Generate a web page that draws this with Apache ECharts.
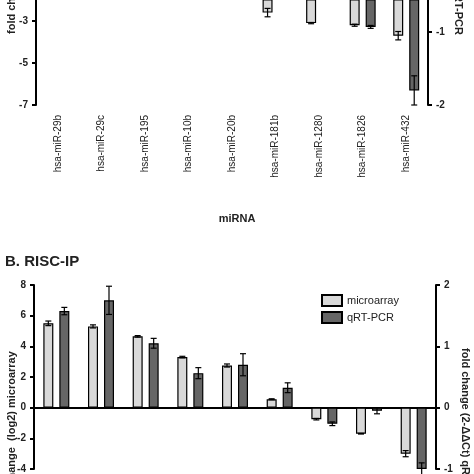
<!DOCTYPE html>
<html><head><meta charset="utf-8">
<script src="https://cdn.jsdelivr.net/npm/echarts@6/dist/echarts.min.js"></script>
<style>html,body{margin:0;padding:0;background:#fff}#c{width:474px;height:474px}</style>
</head><body><div id="c"></div>
<script>
const categories = ['hsa-miR-29b','hsa-miR-29c','hsa-miR-195','hsa-miR-10b','hsa-miR-20b','hsa-miR-181b','hsa-miR-1280','hsa-miR-1826','hsa-miR-432'];
// Panel A (visible part only; first bars lie above crop)
const aMicro = [0.5, 0.5, 0.5, 0.5, 0.5, -2.6, -3.1, -3.2, -3.7];
const aMicroErr = [0, 0, 0, 0, 0, 0.2, 0.03, 0.05, 0.2];
const aQpcr = [0.1, 0.1, 0.1, 0.1, 0.1, -0.3, -0.4, -0.93, -1.8];
const aQpcrErr = [0, 0, 0, 0, 0, 0, 0, 0.02, 0.2];
// Panel B RISC-IP
const bMicro = [5.5, 5.3, 4.65, 3.3, 2.75, 0.55, -0.75, -1.7, -3.0];
const bMicroErr = [0.15, 0.1, 0.05, 0.05, 0.1, 0.03, 0.05, 0.02, 0.2];
const bQpcr = [1.575, 1.75, 1.05, 0.5625, 0.7, 0.325, -0.2625, -0.05, -1.0];
const bQpcrErr = [0.06, 0.23, 0.08, 0.09, 0.18, 0.08, 0.03, 0.05, 0.1];

const F = 'Liberation Sans, Arial, sans-serif';
const lbl = {fontFamily:F, fontSize:10, fontWeight:'bold', color:'#222', showMaxLabel:false};
const lblB = {fontFamily:F, fontSize:10, fontWeight:'bold', color:'#222'};
const axLine = {show:true, lineStyle:{color:'#000', width:2}};
const axTick = {show:true, length:4, lineStyle:{color:'#000', width:2}};
const light = {color:'#d9d9d9', borderColor:'#000', borderWidth:1.2};
const dark = {color:'#666', borderColor:'#000', borderWidth:1.2};

function errSeries(vals, errs, xi, yi, off){
  return {type:'custom', xAxisIndex:xi, yAxisIndex:yi, z:5, silent:true,
    data: vals.map((v,i)=>[i, v, errs[i]]),
    renderItem:(p, api)=>{
      const e = api.value(2); if(!e) return;
      const c = api.coord([api.value(0), api.value(1)]);
      const x = c[0] + off;
      const hi = api.coord([api.value(0), api.value(1)+e])[1];
      const lo = api.coord([api.value(0), api.value(1)-e])[1];
      const s = {stroke:'#000', lineWidth:1.2};
      return {type:'group', children:[
        {type:'line', shape:{x1:x,y1:hi,x2:x,y2:lo}, style:s},
        {type:'line', shape:{x1:x-3,y1:hi,x2:x+3,y2:hi}, style:s},
        {type:'line', shape:{x1:x-3,y1:lo,x2:x+3,y2:lo}, style:s}]};
    }};
}

const chart = echarts.init(document.getElementById('c'));
chart.setOption({
  animation:false,
  grid:[{left:36, right:46, top:0, height:105},
        {left:34, right:38, top:285, height:225}],
  legend:{data:['microarray','qRT-PCR'], left:316, top:289, orient:'vertical', itemWidth:20, itemHeight:11, itemGap:4, icon:'rect',
    textStyle:{fontFamily:F, fontSize:11, color:'#222'}},
  xAxis:[
    {type:'category', gridIndex:0, data:categories, position:'bottom', axisLine:{show:false, onZero:false}, axisTick:{show:false},
     axisLabel:{rotate:90, margin:10, fontFamily:F, fontSize:10, color:'#222'}},
    {type:'category', gridIndex:1, data:categories, axisLine:{show:true, onZero:true, lineStyle:{color:'#000', width:2}}, axisTick:{show:false}, axisLabel:{show:false}}
  ],
  yAxis:[
    {type:'value', gridIndex:0, min:-7, max:-2, interval:2, axisLine:axLine, axisTick:axTick, splitLine:{show:false}, axisLabel:lbl},
    {type:'value', gridIndex:0, min:-2, max:-2+105/73, interval:1, position:'right', axisLine:axLine, axisTick:axTick, splitLine:{show:false}, axisLabel:lbl, alignTicks:false},
    {type:'value', gridIndex:1, min:-4, max:8, interval:2, axisLine:axLine, axisTick:axTick, splitLine:{show:false}, axisLabel:lblB},
    {type:'value', gridIndex:1, min:-1, max:2, interval:1, position:'right', axisLine:axLine, axisTick:axTick, splitLine:{show:false}, axisLabel:lblB, alignTicks:false}
  ],
  series:[
    {name:'microarray', type:'bar', xAxisIndex:0, yAxisIndex:0, data:aMicro, barWidth:10, barGap:'60%', itemStyle:light},
    {name:'qRT-PCR', type:'bar', xAxisIndex:0, yAxisIndex:1, data:aQpcr, barWidth:10, barGap:'60%', itemStyle:dark},
    {name:'microarray', type:'bar', xAxisIndex:1, yAxisIndex:2, data:bMicro, barWidth:10, barGap:'60%', itemStyle:light},
    {name:'qRT-PCR', type:'bar', xAxisIndex:1, yAxisIndex:3, data:bQpcr, barWidth:10, barGap:'60%', itemStyle:dark},
    errSeries(aMicro, aMicroErr, 0, 0, -8),
    errSeries(aQpcr, aQpcrErr, 0, 1, 8),
    errSeries(bMicro, bMicroErr, 1, 2, -8),
    errSeries(bQpcr, bQpcrErr, 1, 3, 8)
  ],
  graphic:[
    {type:'text', left:5, top:254, style:{text:'B. RISC-IP', font:'bold 15px '+F, fill:'#222'}},
    {type:'text', x:237, y:219, style:{text:'miRNA', font:'bold 11px '+F, fill:'#222', align:'center', verticalAlign:'middle'}},
    {type:'text', x:12, y:34, rotation:Math.PI/2, style:{text:'fold change (log2) microarray', font:'bold 11px '+F, fill:'#222', align:'left', verticalAlign:'middle'}},
    {type:'text', x:458, y:35, rotation:-Math.PI/2, style:{text:'fold change (2-ΔΔCt) qRT-PCR', font:'bold 11px '+F, fill:'#222', align:'right', verticalAlign:'middle'}},
    {type:'text', x:12, y:430, rotation:Math.PI/2, style:{text:'fold change  (log2) microarray', font:'bold 11px '+F, fill:'#222', align:'center', verticalAlign:'middle'}},
    {type:'text', x:465, y:348, rotation:-Math.PI/2, style:{text:'fold change (2-ΔΔCt) qRT-PCR', font:'bold 11px '+F, fill:'#222', align:'left', verticalAlign:'middle'}}
  ]
});
</script></body></html>
